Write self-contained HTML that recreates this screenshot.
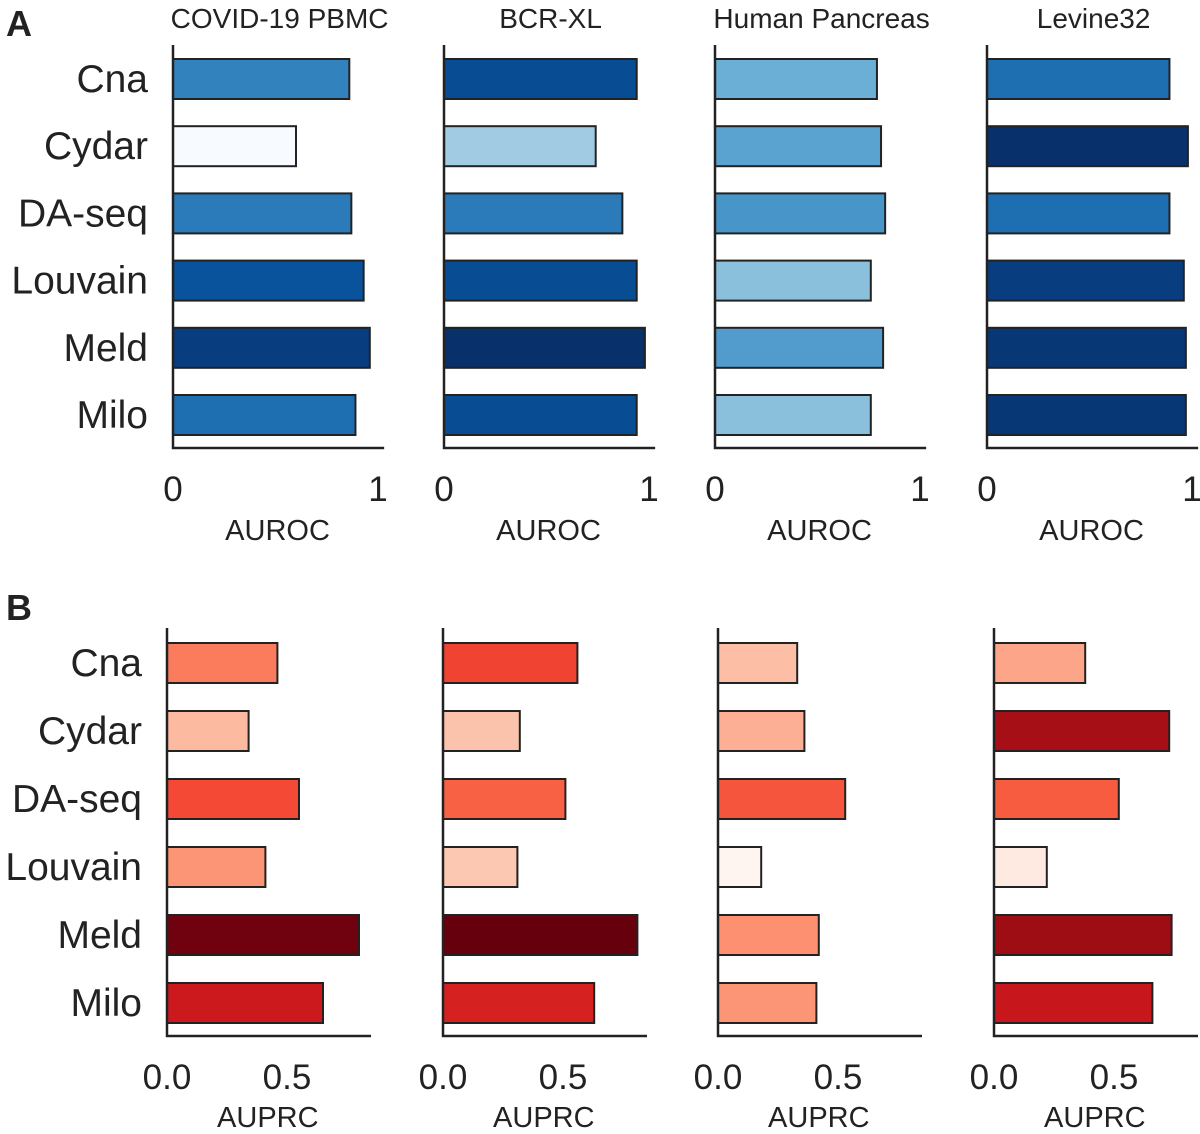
<!DOCTYPE html>
<html><head><meta charset="utf-8"><style>
html,body{margin:0;padding:0;background:#fff}
svg{display:block;font-family:"Liberation Sans",Arial,sans-serif}
</style></head><body>
<svg id="chart" width="1200" height="1134" viewBox="0 0 1200 1134" xmlns="http://www.w3.org/2000/svg">
<text x="6" y="36" font-size="36" font-weight="bold" fill="#222">A</text>
<text x="6" y="620" font-size="36" font-weight="bold" fill="#222">B</text>
</svg>
<script>
const methods = ["Cna","Cydar","DA-seq","Louvain","Meld","Milo"];
const datasets = ["COVID-19 PBMC","BCR-XL","Human Pancreas","Levine32"];
const aurocCovid = [0.86,0.60,0.87,0.93,0.96,0.89];
const aurocBcr = [0.94,0.74,0.87,0.94,0.98,0.94];
const aurocPancreas = [0.79,0.81,0.83,0.76,0.82,0.76];
const aurocLevine = [0.89,0.98,0.89,0.96,0.97,0.97];
const auprcCovid = [0.46,0.34,0.55,0.41,0.80,0.65];
const auprcBcr = [0.56,0.32,0.51,0.31,0.81,0.63];
const auprcPancreas = [0.33,0.36,0.53,0.18,0.42,0.41];
const auprcLevine = [0.38,0.73,0.52,0.22,0.74,0.66];
const aurocTicks = ["0","1"];
const aurocTickVals = [0,1];
const auprcTicks = ["0.0","0.5"];
const auprcTickVals = [0,0.5];

const BLUES=["#f7fbff","#deebf7","#c6dbef","#9ecae1","#6baed6","#4292c6","#2171b5","#08519c","#08306b"];
const REDS=["#fff5f0","#fee0d2","#fcbba1","#fc9272","#fb6a4a","#ef3b2c","#cb181d","#a50f15","#67000d"];
function hex(c){return [1,3,5].map(i=>parseInt(c.substr(i,2),16));}
function cmap(stops,t){t=Math.max(0,Math.min(1,t));const p=t*(stops.length-1);const i=Math.min(Math.floor(p),stops.length-2);const f=p-i;const a=hex(stops[i]),b=hex(stops[i+1]);return "rgb("+a.map((v,k)=>Math.round(v+(b[k]-v)*f)).join(",")+")";}
const NS="http://www.w3.org/2000/svg";
const svg=document.getElementById("chart");
function mk(tag,attrs,parent){const e=document.createElementNS(NS,tag);for(const k in attrs)e.setAttribute(k,attrs[k]);(parent||svg).appendChild(e);return e;}

function panel(cfg){
  const all=cfg.series.flat();const mn=Math.min(...all),mx=Math.max(...all);
  cfg.series.forEach((vals,pi)=>{
    const x0=cfg.x0s[pi];
    const xs=v=>x0+v*cfg.scale;
    const ys=i=>cfg.row0+i*cfg.rowStep;
    const g=mk("g",{});
    
    
    const t=mk("text",{x:xs(cfg.titleCenter),y:cfg.titleY,"font-size":28,"text-anchor":"middle",fill:"#222"},g);
    t.textContent=datasets[pi];
    
    
    vals.forEach((v,i)=>{
      const r=mk("rect",{x:xs(0),y:ys(i)-cfg.barH/2,width:xs(v)-xs(0),height:cfg.barH,fill:cmap(cfg.cmap,(v-mn)/(mx-mn)),stroke:"#222","stroke-width":2},g);
      
      
      if(pi===0){
        const l=mk("text",{x:cfg.labelX,y:ys(i)+13,"font-size":39,"text-anchor":"end",fill:"#222"},g);
        l.textContent=methods[i];
        
        
      }
    });
    const ax=mk("path",{d:`M${x0} ${cfg.top} V${cfg.bottom} H${xs(cfg.xmax)}`,fill:"none",stroke:"#222","stroke-width":2.5},g);
    
    
    cfg.tickVals.forEach((tv,k)=>{
      const tl=mk("text",{x:xs(tv),y:cfg.tickY,"font-size":35,"text-anchor":"middle",fill:"#222"},g);
      tl.textContent=cfg.ticks[k];
      
      
    });
    const xl=mk("text",{x:xs(cfg.xlabCenter),y:cfg.xlabY,"font-size":29,"text-anchor":"middle",fill:"#222"},g);
    xl.textContent=cfg.xlabel;
    
    
  });
}
panel({id:"auroc",series:[aurocCovid,aurocBcr,aurocPancreas,aurocLevine],x0s:[173,444,715,987],scale:205,xmax:1.03,
  row0:79,rowStep:67.2,barH:40,top:45,bottom:448,titleY:28,titleCenter:0.52,xlabCenter:0.51,tickY:501,xlabY:540,labelX:148,
  cmap:BLUES,ticks:aurocTicks,tickVals:aurocTickVals,xlabel:"AUROC"});
panel({id:"auprc",series:[auprcCovid,auprcBcr,auprcPancreas,auprcLevine],x0s:[167,443,718,994],scale:240,xmax:0.85,
  row0:663,rowStep:68,barH:40,top:628,bottom:1036,titleY:-100,titleCenter:0.42,xlabCenter:0.42,tickY:1089,xlabY:1127,labelX:142,
  cmap:REDS,ticks:auprcTicks,tickVals:auprcTickVals,xlabel:"AUPRC"});
</script>
</body></html>
